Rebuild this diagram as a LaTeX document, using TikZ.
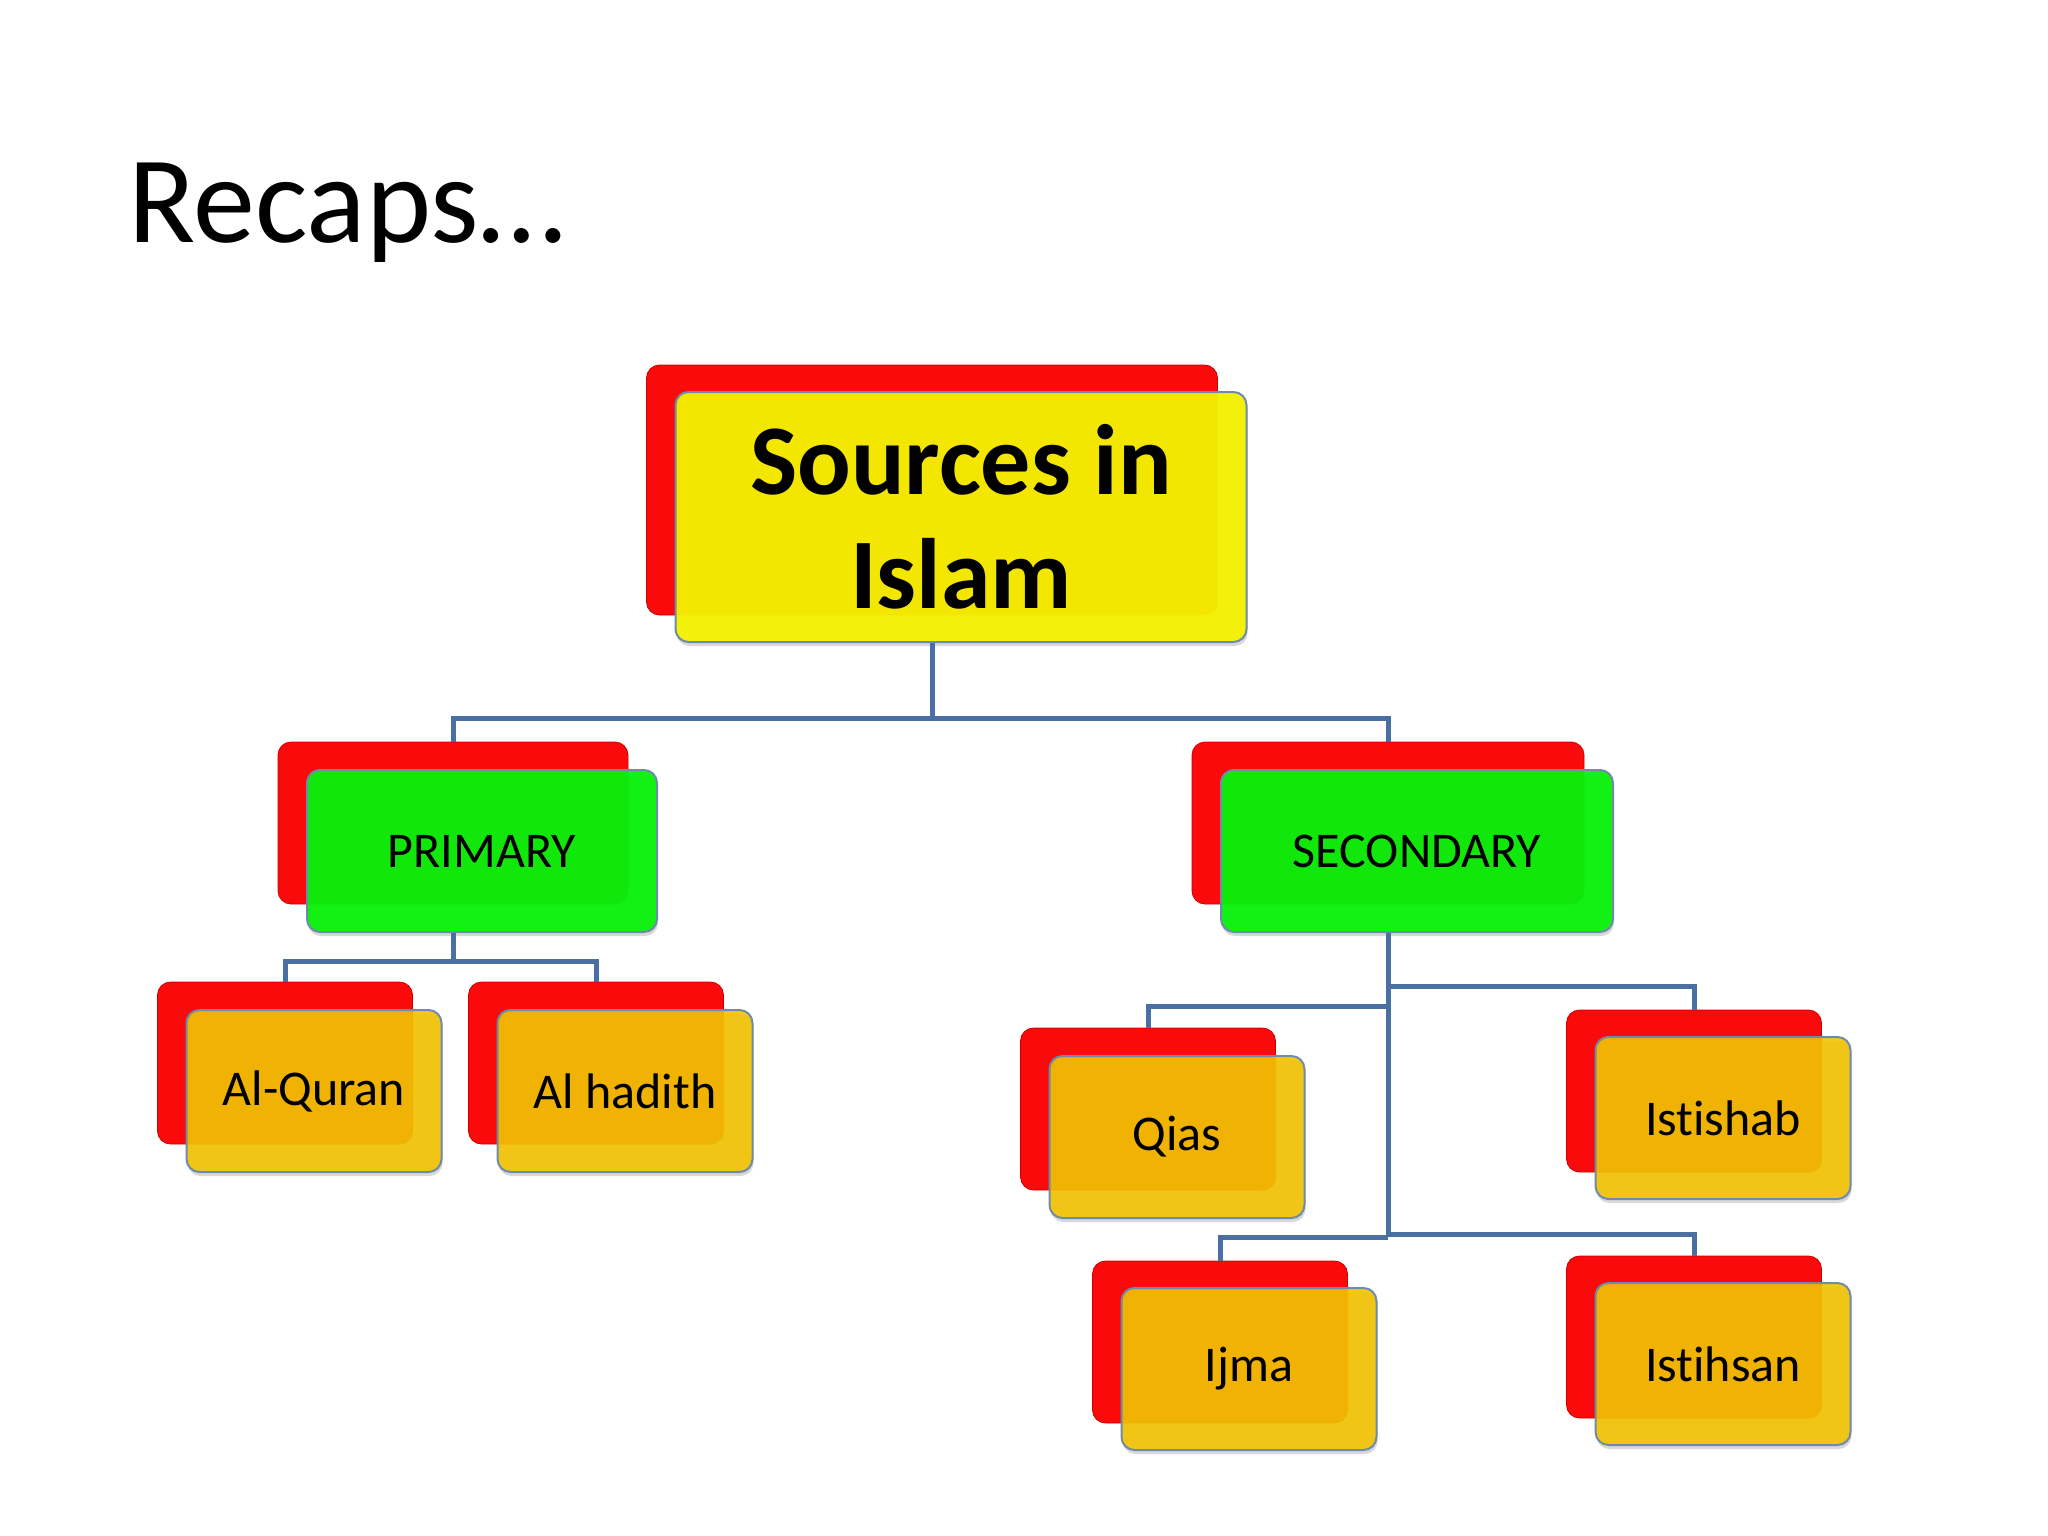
\documentclass[tikz,border=0pt]{standalone}
\usepackage{fontspec}
\setmainfont{Carlito}[RawFeature={-liga;-clig}]
\usetikzlibrary{shadows}
\definecolor{redbox}{RGB}{250,10,10}
\definecolor{rededge}{RGB}{205,0,0}
\definecolor{yellowbox}{RGB}{245,242,0}
\definecolor{greenbox}{RGB}{8,242,10}
\definecolor{orangebox}{RGB}{244,195,0}
\definecolor{frameblue}{RGB}{110,140,170}
\definecolor{connblue}{RGB}{74,112,162}
\tikzset{
  backbox/.style={fill=redbox, draw=rededge, line width=0.8pt, rounded corners=13pt, inner sep=0pt},
  frontbox/.style={draw=frameblue, line width=2pt, rounded corners=13pt, inner sep=0pt,
    fill opacity=0.9, text opacity=1,
    drop shadow={shadow xshift=1pt, shadow yshift=-4pt, opacity=0.25, fill=black!60}},
  brightbox/.style={frontbox, fill opacity=0.95},
  conn/.style={draw=connblue, line width=5pt},
  leaf/.style={minimum width=255pt, minimum height=162pt},
  leaffont/.style={font=\fontsize{50}{60}\selectfont}
}
\begin{document}
\begin{tikzpicture}[x=1pt,y=-1pt]
\useasboundingbox[fill=white] (0,0) rectangle (2048,1536);

\node[anchor=base west, font=\fontsize{124}{150}\selectfont] (title) at (125,242) {Recaps…};

% top
\node[backbox, minimum width=571pt, minimum height=250pt] (topB) at (932,490) {};
\node[brightbox, fill=yellowbox, minimum width=571pt, minimum height=250pt, align=center,
  font=\bfseries\fontsize{100}{114}\selectfont] (topF) at (961,517) {Sources in\\Islam};

% level 2
\node[backbox, minimum width=350pt, minimum height=162pt] (primB) at (453,823) {};
\node[brightbox, fill=greenbox, minimum width=350pt, minimum height=162pt, leaffont] (primF) at (482,851) {PRIMARY};
\node[backbox, minimum width=392pt, minimum height=162pt] (secB) at (1388,823) {};
\node[brightbox, fill=greenbox, minimum width=392pt, minimum height=162pt, leaffont] (secF) at (1417,851) {SECONDARY};

% leaves
\node[backbox, leaf] (quranB) at (285,1063) {};
\node[frontbox, fill=orangebox, leaf, leaffont] (quranF) at (314,1091) {Al-Quran};
\node[backbox, leaf] (hadithB) at (596,1063) {};
\node[frontbox, fill=orangebox, leaf, leaffont] (hadithF) at (625,1091) {Al hadith};

\node[backbox, leaf] (qiasB) at (1148,1109) {};
\node[frontbox, fill=orangebox, leaf, leaffont] (qiasF) at (1177,1137) {Qias};
\node[backbox, leaf] (istishabB) at (1694,1091) {};
\node[frontbox, fill=orangebox, leaf, leaffont] (istishabF) at (1723,1118) {Istishab};
\node[backbox, leaf] (ijmaB) at (1220,1342) {};
\node[frontbox, fill=orangebox, leaf, leaffont] (ijmaF) at (1249,1369) {Ijma};
\node[backbox, leaf] (istihsanB) at (1694,1337) {};
\node[frontbox, fill=orangebox, leaf, leaffont] (istihsanF) at (1723,1364) {Istihsan};

% connectors
\coordinate (j1) at (932,718);
\draw[conn] (topB.center |- topF.south) -- (j1);
\draw[conn] (j1) -| (primB.north);
\draw[conn] (j1) -| (secB.north);

\coordinate (j2) at (453,961);
\draw[conn] (primB.center |- primF.south) -- (j2);
\draw[conn] (j2) -| (quranB.north);
\draw[conn] (j2) -| (hadithB.north);

\coordinate (j3) at (1388,1237);
\coordinate (jq) at (1388,1006);
\coordinate (js) at (1388,986);
\coordinate (jh) at (1388,1234);
\draw[conn] (secB.center |- secF.south) -- (j3);
\draw[conn] (jq) -| (qiasB.north);
\draw[conn] (js) -| (istishabB.north);
\draw[conn] (j3) -| (ijmaB.north);
\draw[conn] (jh) -| (istihsanB.north);
\end{tikzpicture}
\end{document}
